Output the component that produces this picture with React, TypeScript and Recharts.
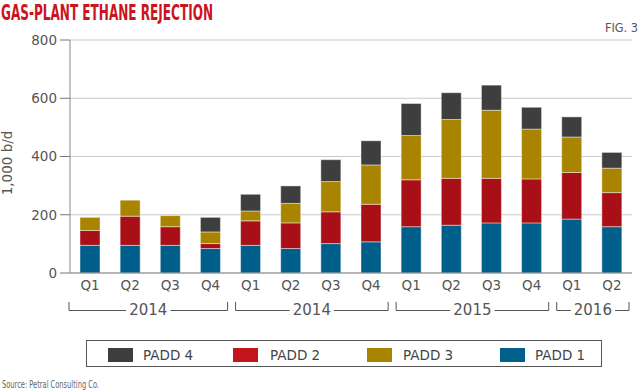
import { BarChart, Bar, XAxis, YAxis, CartesianGrid } from "recharts";

const quarters = ["Q1", "Q2", "Q3", "Q4", "Q1", "Q2", "Q3", "Q4", "Q1", "Q2", "Q3", "Q4", "Q1", "Q2"];
const padd1 = [95, 95, 95, 84, 95, 84, 101, 107, 159, 164, 172, 172, 185, 159];
const padd2 = [51, 100, 64, 17, 84, 88, 109, 129, 161, 161, 153, 151, 160, 117];
const padd3 = [45, 55, 38, 40, 34, 67, 104, 135, 152, 202, 234, 171, 122, 84];
const padd4 = [0, 0, 0, 50, 57, 60, 75, 83, 110, 92, 86, 75, 69, 54];

const yearLabels = ["2014", "2014", "2015", "2016"];
const yearSpans = [4, 4, 4, 2];
const yTicks = [0, 200, 400, 600, 800];

// bottom to top in the stack
const series = [
  { key: "padd1", name: "PADD 1", color: "#005e8a", swatch: "#005f8c" },
  { key: "padd2", name: "PADD 2", color: "#a80f16", swatch: "#c4141c" },
  { key: "padd3", name: "PADD 3", color: "#a88400", swatch: "#a88400" },
  { key: "padd4", name: "PADD 4", color: "#3e3e3e", swatch: "#3e3e3e" },
];
const legendOrder = ["padd4", "padd2", "padd3", "padd1"];

const data = quarters.map((q, i) => ({
  id: i,
  q,
  padd1: padd1[i],
  padd2: padd2[i],
  padd3: padd3[i],
  padd4: padd4[i],
}));

const FONT = "'DejaVu Sans', sans-serif";
const W = 640;
const H = 390;
const PLOT_LEFT = 70;
const PLOT_RIGHT = 632;
const PLOT_TOP = 40;
const PLOT_BOTTOM = 273;

const legendLeft = [108, 233, 367, 500];
const legendTextLeft = [143, 270, 403, 535];

function YearBrackets() {
  const band = (PLOT_RIGHT - PLOT_LEFT) / quarters.length;
  let start = 0;
  return (
    <>
      {yearLabels.map((label, i) => {
        const x0 = PLOT_LEFT + start * band;
        const x1 = PLOT_LEFT + (start + yearSpans[i]) * band;
        start += yearSpans[i];
        const a = i === 0 ? x0 - 1 : x0 + 5;
        const b = x1 - 3;
        const mid = (a + b) / 2;
        const half = label.length * 4.8 + 3;
        return (
          <g key={i} stroke="#555" strokeWidth={1} fill="none">
            <path d={`M${a},302 V310.5 H${mid - half} M${mid + half},310.5 H${b} V302`} />
            <text
              x={mid}
              y={315}
              textAnchor="middle"
              fill="#555"
              stroke="none"
              fontSize={15}
              fontFamily={FONT}
            >
              {label}
            </text>
          </g>
        );
      })}
    </>
  );
}

export default function App() {
  return (
    <div style={{ position: "fixed", left: 0, top: 0, width: W, height: H, background: "#fff" }}>
      <BarChart
        width={W}
        height={H}
        data={data}
        margin={{ top: PLOT_TOP, right: W - PLOT_RIGHT, bottom: H - PLOT_BOTTOM - 30, left: PLOT_LEFT - 60 }}
        barSize={20}
      >
        <CartesianGrid vertical={false} stroke="#c9c9c9" strokeWidth={1} />
        <XAxis
          dataKey="id"
          tickFormatter={(v: number) => quarters[v]}
          axisLine={{ stroke: "#888" }}
          tickLine={false}
          tickSize={6}
          tickMargin={1}
          height={30}
          interval={0}
          tick={{ fill: "#555", fontSize: 13.5, fontFamily: FONT }}
        />
        <YAxis
          domain={[0, 800]}
          ticks={yTicks}
          width={60}
          axisLine={{ stroke: "#888" }}
          tickLine={{ stroke: "#777" }}
          tickSize={10}
          tickMargin={3}
          tick={{ fill: "#555", fontSize: 13.5, fontFamily: FONT }}
        />
        {series.map((s) => (
          <Bar
            key={s.key}
            dataKey={s.key}
            name={s.name}
            stackId="a"
            fill={s.color}
            stroke="rgba(255,255,255,0.55)"
            strokeWidth={0.8}
            isAnimationActive={false}
          />
        ))}
      </BarChart>

      <svg
        width={W}
        height={H}
        style={{ position: "absolute", left: 0, top: 0, pointerEvents: "none" }}
      >
        <text
          x={1}
          y={19.5}
          fill="#cc1420"
          fontSize={20.5}
          fontWeight="bold"
          fontFamily="'DejaVu Sans Condensed', 'DejaVu Sans', sans-serif"
          textLength={212}
          lengthAdjust="spacingAndGlyphs"
        >
          GAS-PLANT ETHANE REJECTION
        </text>
        <text
          x={605}
          y={32}
          fill="#555"
          fontSize={13}
          fontFamily="'DejaVu Sans Condensed', sans-serif"
          textLength={33}
          lengthAdjust="spacingAndGlyphs"
        >
          FIG. 3
        </text>
        <text
          x={6.5}
          y={163}
          transform="rotate(-90 6.5 163)"
          textAnchor="middle"
          dominantBaseline="central"
          fill="#555"
          fontSize={13.5}
          fontFamily={FONT}
        >
          1,000 b/d
        </text>
        <YearBrackets />
        <text
          x={2}
          y={388}
          fill="#666"
          fontSize={10}
          fontFamily="'DejaVu Sans Condensed', sans-serif"
          textLength={97}
          lengthAdjust="spacingAndGlyphs"
        >
          Source: Petral Consulting Co.
        </text>
      </svg>

      <div
        style={{
          position: "absolute",
          left: 86,
          top: 340,
          width: 516,
          height: 27,
          border: "1px solid #555",
          boxSizing: "border-box",
        }}
      />
      {legendOrder.map((k, i) => {
        const s = series.find((x) => x.key === k)!;
        return (
          <div key={k}>
            <div
              style={{
                position: "absolute",
                left: legendLeft[i],
                top: 348,
                width: 25,
                height: 14,
                background: s.swatch,
              }}
            />
            <div
              style={{
                position: "absolute",
                left: legendTextLeft[i],
                top: 346,
                fontSize: 13.5,
                lineHeight: "18px",
                fontFamily: FONT,
                color: "#444",
              }}
            >
              {s.name}
            </div>
          </div>
        );
      })}
    </div>
  );
}
